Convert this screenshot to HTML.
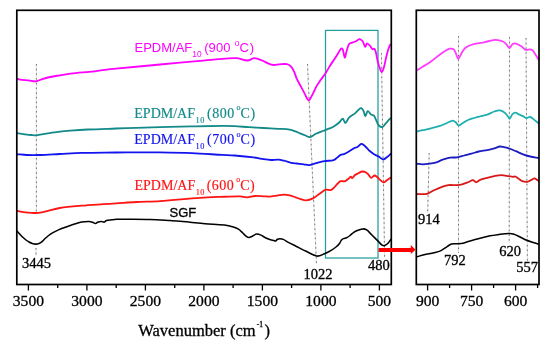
<!DOCTYPE html>
<html><head><meta charset="utf-8"><style>
html,body{margin:0;padding:0;background:#fff;}
svg{display:block;will-change:transform;}

</style></head><body>
<svg width="550" height="348" viewBox="0 0 550 348">
<rect width="550" height="348" fill="#fff"/>
<line x1="36.4" y1="64" x2="36.4" y2="212" stroke="#dcdcdc" stroke-width="0.9"/><line x1="36.4" y1="64" x2="36.4" y2="212" stroke="#6a6a6a" stroke-width="0.9" stroke-dasharray="1.6 3.1" fill="none"/>
<line x1="36.0" y1="248" x2="36.0" y2="256" stroke="#dcdcdc" stroke-width="0.9"/><line x1="36.0" y1="248" x2="36.0" y2="256" stroke="#6a6a6a" stroke-width="0.9" stroke-dasharray="1.6 3.1" fill="none"/>
<line x1="307.5" y1="64" x2="316.5" y2="264" stroke="#dcdcdc" stroke-width="0.9"/><line x1="307.5" y1="64" x2="316.5" y2="264" stroke="#6a6a6a" stroke-width="0.9" stroke-dasharray="1.6 3.1" fill="none"/>
<line x1="381.4" y1="53" x2="384.6" y2="257" stroke="#dcdcdc" stroke-width="0.9"/><line x1="381.4" y1="53" x2="384.6" y2="257" stroke="#6a6a6a" stroke-width="0.9" stroke-dasharray="1.6 3.1" fill="none"/>
<line x1="429.2" y1="153" x2="427.7" y2="213" stroke="#dcdcdc" stroke-width="0.9"/><line x1="429.2" y1="153" x2="427.7" y2="213" stroke="#6a6a6a" stroke-width="0.9" stroke-dasharray="1.6 3.1" fill="none"/>
<line x1="458.5" y1="36" x2="458.5" y2="253" stroke="#dcdcdc" stroke-width="0.9"/><line x1="458.5" y1="36" x2="458.5" y2="253" stroke="#6a6a6a" stroke-width="0.9" stroke-dasharray="1.6 3.1" fill="none"/>
<line x1="509.5" y1="37" x2="509.2" y2="243" stroke="#dcdcdc" stroke-width="0.9"/><line x1="509.5" y1="37" x2="509.2" y2="243" stroke="#6a6a6a" stroke-width="0.9" stroke-dasharray="1.6 3.1" fill="none"/>
<line x1="526.0" y1="38" x2="527.4" y2="262" stroke="#dcdcdc" stroke-width="0.9"/><line x1="526.0" y1="38" x2="527.4" y2="262" stroke="#6a6a6a" stroke-width="0.9" stroke-dasharray="1.6 3.1" fill="none"/>
<rect x="325.5" y="30.4" width="52.5" height="227.6" fill="none" stroke="#249d9d" stroke-width="1.25"/>
<path d="M16.50 78.50 C17.67 78.87 18.83 79.42 20.00 79.60 C22.87 80.05 25.73 80.09 28.60 80.40 C31.03 80.66 33.47 81.53 35.90 81.30 C38.07 81.10 40.23 79.75 42.40 79.10 C45.00 78.32 47.60 77.56 50.20 77.00 C53.47 76.29 56.73 75.85 60.00 75.30 C63.50 74.71 67.00 74.01 70.50 73.60 C78.40 72.68 86.30 72.20 94.20 71.30 C99.47 70.70 104.73 69.73 110.00 69.10 C112.00 68.86 114.00 68.88 116.00 68.70 C130.67 67.35 145.33 65.86 160.00 64.50 C173.33 63.26 186.67 62.14 200.00 60.90 C206.00 60.34 212.00 59.55 218.00 59.10 C224.13 58.65 230.27 57.91 236.40 58.20 C240.13 58.38 243.87 60.50 247.60 60.50 C249.90 60.50 252.20 58.20 254.50 58.20 C257.07 58.20 259.63 59.53 262.20 60.50 C264.13 61.23 266.07 62.55 268.00 63.30 C269.93 64.05 271.87 64.81 273.80 65.00 C275.53 65.17 277.27 64.51 279.00 64.40 C281.63 64.24 284.27 63.69 286.90 64.20 C288.37 64.49 289.83 65.27 291.30 66.80 C292.27 67.81 293.23 69.68 294.20 71.80 C295.00 73.55 295.80 76.62 296.60 78.40 C297.83 81.15 299.07 83.09 300.30 85.40 C301.77 88.15 303.23 90.75 304.70 93.60 C305.53 95.22 306.37 97.40 307.20 98.80 C307.73 99.70 308.27 100.64 308.80 100.50 C309.43 100.34 310.07 98.98 310.70 97.90 C311.57 96.42 312.43 94.53 313.30 92.80 C314.43 90.53 315.57 87.86 316.70 85.90 C318.13 83.42 319.57 81.55 321.00 79.50 C322.53 77.31 324.07 75.53 325.60 73.20 C327.07 70.97 328.53 68.14 330.00 65.80 C331.43 63.51 332.87 61.52 334.30 59.30 C335.73 57.08 337.17 54.72 338.60 52.50 C339.47 51.16 340.33 49.14 341.20 48.60 C341.77 48.24 342.33 48.38 342.90 49.80 C343.53 51.38 344.17 57.39 344.80 57.60 C345.40 57.79 346.00 52.90 346.60 51.00 C347.40 48.47 348.20 45.46 349.00 44.30 C350.13 42.66 351.27 43.09 352.40 42.60 C353.57 42.09 354.73 41.86 355.90 41.30 C357.10 40.73 358.30 39.17 359.50 39.20 C360.60 39.23 361.70 40.03 362.80 41.50 C363.60 42.57 364.40 46.44 365.20 46.80 C365.80 47.07 366.40 43.40 367.00 43.40 C368.27 43.40 369.53 45.39 370.80 46.80 C371.27 47.32 371.73 48.95 372.20 49.20 C372.90 49.58 373.60 48.16 374.30 48.70 C374.80 49.09 375.30 50.14 375.80 52.00 C376.40 54.24 377.00 58.63 377.60 61.00 C378.43 64.29 379.27 66.76 380.10 69.00 C380.63 70.43 381.17 72.17 381.70 72.00 C382.40 71.77 383.10 70.20 383.80 67.80 C384.83 64.26 385.87 58.03 386.90 54.20 C387.90 50.50 388.90 47.62 389.90 45.20 C390.33 44.15 390.77 44.27 391.20 43.80" fill="none" stroke="#ff00ff" stroke-width="1.8" stroke-linejoin="round" stroke-linecap="butt"/>
<path d="M16.50 133.20 C19.33 133.57 22.17 133.96 25.00 134.30 C27.10 134.56 29.20 134.82 31.30 135.00 C33.10 135.15 34.90 135.45 36.70 135.30 C39.27 135.08 41.83 134.35 44.40 133.90 C46.93 133.45 49.47 132.96 52.00 132.60 C54.57 132.23 57.13 131.98 59.70 131.70 C63.30 131.31 66.90 130.88 70.50 130.60 C76.33 130.15 82.17 129.77 88.00 129.50 C97.33 129.07 106.67 128.83 116.00 128.50 C122.67 128.26 129.33 128.00 136.00 127.80 C144.00 127.56 152.00 127.40 160.00 127.20 C170.60 126.93 181.20 126.62 191.80 126.40 C202.10 126.19 212.40 125.95 222.70 125.90 C226.63 125.88 230.57 126.01 234.50 126.20 C239.33 126.44 244.17 126.90 249.00 127.20 C253.87 127.50 258.73 127.73 263.60 128.00 C268.47 128.27 273.33 128.50 278.20 128.80 C282.07 129.04 285.93 129.02 289.80 129.60 C291.73 129.89 293.67 130.70 295.60 131.40 C297.07 131.93 298.53 132.69 300.00 133.30 C301.83 134.06 303.67 134.79 305.50 135.50 C306.93 136.06 308.37 137.33 309.80 137.10 C311.83 136.77 313.87 134.75 315.90 133.80 C318.20 132.72 320.50 131.90 322.80 131.00 C325.10 130.10 327.40 129.33 329.70 128.40 C331.03 127.86 332.37 127.43 333.70 126.60 C335.63 125.40 337.57 123.98 339.50 122.30 C340.63 121.31 341.77 118.46 342.90 118.60 C343.67 118.69 344.43 123.15 345.20 123.00 C346.53 122.75 347.87 118.71 349.20 117.40 C351.13 115.51 353.07 114.96 355.00 113.40 C356.13 112.49 357.27 110.94 358.40 110.00 C359.37 109.20 360.33 108.00 361.30 108.20 C362.07 108.36 362.83 109.55 363.60 111.10 C364.17 112.25 364.73 116.30 365.30 116.30 C366.07 116.30 366.83 111.32 367.60 111.10 C368.77 110.76 369.93 113.76 371.10 114.60 C372.07 115.29 373.03 114.73 374.00 115.70 C374.57 116.27 375.13 117.98 375.70 119.20 C376.47 120.85 377.23 123.07 378.00 124.30 C378.77 125.53 379.53 126.15 380.30 126.60 C381.07 127.05 381.83 127.46 382.60 127.00 C383.73 126.32 384.87 124.48 386.00 123.20 C387.17 121.88 388.33 120.37 389.50 119.20 C390.07 118.63 390.63 118.40 391.20 118.00" fill="none" stroke="#138a8a" stroke-width="1.8" stroke-linejoin="round" stroke-linecap="butt"/>
<path d="M16.50 154.10 C19.97 154.40 23.43 154.87 26.90 155.00 C31.27 155.17 35.63 155.13 40.00 155.00 C46.57 154.80 53.13 154.33 59.70 154.00 C66.97 153.63 74.23 153.09 81.50 152.90 C93.00 152.59 104.50 152.63 116.00 152.50 C122.67 152.43 129.33 152.32 136.00 152.30 C144.00 152.28 152.00 152.27 160.00 152.40 C170.60 152.57 181.20 152.78 191.80 153.20 C202.10 153.61 212.40 154.35 222.70 154.90 C226.63 155.11 230.57 155.18 234.50 155.50 C240.83 156.01 247.17 156.59 253.50 157.40 C256.87 157.83 260.23 158.70 263.60 159.20 C266.03 159.56 268.47 159.93 270.90 160.00 C273.33 160.07 275.77 159.47 278.20 159.60 C280.13 159.70 282.07 160.23 284.00 160.70 C286.43 161.29 288.87 162.28 291.30 162.80 C293.20 163.21 295.10 163.27 297.00 163.50 C299.27 163.77 301.53 164.00 303.80 164.30 C305.53 164.53 307.27 165.24 309.00 165.10 C311.10 164.94 313.20 163.94 315.30 163.40 C318.37 162.61 321.43 161.65 324.50 161.10 C327.57 160.55 330.63 160.95 333.70 160.10 C334.87 159.78 336.03 158.48 337.20 157.60 C338.33 156.75 339.47 155.48 340.60 154.90 C341.93 154.22 343.27 154.36 344.60 153.80 C346.13 153.16 347.67 152.20 349.20 151.30 C350.73 150.40 352.27 149.22 353.80 148.40 C355.13 147.69 356.47 147.52 357.80 146.70 C358.97 145.98 360.13 144.06 361.30 143.80 C362.20 143.60 363.10 144.64 364.00 145.30 C364.83 145.91 365.67 146.78 366.50 147.60 C367.60 148.68 368.70 150.02 369.80 151.00 C371.10 152.16 372.40 153.12 373.70 154.00 C374.57 154.59 375.43 154.96 376.30 155.40 C377.13 155.82 377.97 156.10 378.80 156.60 C380.27 157.47 381.73 159.43 383.20 159.50 C384.53 159.56 385.87 158.02 387.20 157.00 C388.53 155.98 389.87 154.60 391.20 153.40" fill="none" stroke="#1414ee" stroke-width="1.8" stroke-linejoin="round" stroke-linecap="butt"/>
<path d="M16.50 210.60 C18.33 211.00 20.17 211.47 22.00 211.80 C24.00 212.17 26.00 212.52 28.00 212.70 C30.53 212.92 33.07 213.07 35.60 213.00 C37.73 212.94 39.87 212.68 42.00 212.30 C44.00 211.95 46.00 211.29 48.00 210.80 C51.90 209.85 55.80 208.59 59.70 208.00 C66.97 206.89 74.23 206.33 81.50 205.70 C88.77 205.07 96.03 204.68 103.30 204.20 C107.53 203.92 111.77 203.68 116.00 203.40 C122.67 202.95 129.33 202.35 136.00 202.00 C144.00 201.58 152.00 201.62 160.00 201.10 C173.33 200.22 186.67 198.73 200.00 197.80 C206.67 197.33 213.33 197.13 220.00 196.90 C226.67 196.67 233.33 196.30 240.00 196.40 C242.33 196.43 244.67 197.36 247.00 197.30 C249.67 197.23 252.33 196.16 255.00 196.00 C257.87 195.83 260.73 196.18 263.60 196.30 C265.57 196.38 267.53 196.70 269.50 196.60 C272.00 196.47 274.50 195.94 277.00 195.60 C279.33 195.28 281.67 194.64 284.00 194.60 C285.93 194.57 287.87 194.95 289.80 195.40 C291.73 195.85 293.67 196.64 295.60 197.30 C297.07 197.80 298.53 198.47 300.00 198.90 C302.03 199.50 304.07 200.48 306.10 200.40 C308.40 200.31 310.70 199.55 313.00 198.40 C315.30 197.25 317.60 195.08 319.90 193.50 C321.83 192.18 323.77 190.30 325.70 189.70 C327.43 189.16 329.17 190.56 330.90 190.10 C332.03 189.80 333.17 188.50 334.30 187.40 C335.27 186.46 336.23 184.95 337.20 184.00 C338.33 182.88 339.47 181.61 340.60 181.20 C341.93 180.71 343.27 181.69 344.60 181.30 C345.77 180.96 346.93 179.85 348.10 179.00 C349.03 178.32 349.97 176.89 350.90 176.70 C351.30 176.62 351.70 178.37 352.10 178.20 C353.07 177.80 354.03 175.77 355.00 175.00 C356.13 174.10 357.27 173.74 358.40 173.20 C359.73 172.57 361.07 171.58 362.40 171.50 C363.77 171.42 365.13 172.02 366.50 172.70 C367.07 172.98 367.63 173.77 368.20 174.40 C369.17 175.47 370.13 177.63 371.10 177.80 C372.23 178.00 373.37 175.59 374.50 175.50 C375.47 175.42 376.43 176.53 377.40 177.30 C378.37 178.07 379.33 179.29 380.30 180.10 C381.37 180.99 382.43 182.40 383.50 182.40 C384.73 182.40 385.97 180.92 387.20 180.10 C388.53 179.22 389.87 178.23 391.20 177.30" fill="none" stroke="#ff1414" stroke-width="1.8" stroke-linejoin="round" stroke-linecap="butt"/>
<path d="M16.50 230.40 C17.50 231.53 18.50 232.70 19.50 233.80 C20.50 234.90 21.50 236.05 22.50 237.00 C23.67 238.11 24.83 239.10 26.00 240.00 C27.00 240.77 28.00 241.44 29.00 242.00 C30.10 242.61 31.20 243.15 32.30 243.50 C33.40 243.85 34.50 244.10 35.60 244.10 C36.73 244.10 37.87 243.94 39.00 243.50 C40.00 243.11 41.00 242.38 42.00 241.60 C42.80 240.98 43.60 240.05 44.40 239.30 C45.60 238.18 46.80 236.93 48.00 236.00 C49.67 234.70 51.33 233.57 53.00 232.60 C55.00 231.44 57.00 230.45 59.00 229.60 C61.40 228.58 63.80 227.86 66.20 227.00 C68.47 226.19 70.73 225.33 73.00 224.60 C75.83 223.69 78.67 222.65 81.50 222.10 C84.03 221.61 86.57 221.45 89.10 221.50 C90.30 221.52 91.50 221.93 92.70 222.30 C93.63 222.59 94.57 223.57 95.50 223.50 C96.40 223.43 97.30 222.17 98.20 221.90 C99.40 221.54 100.60 221.56 101.80 221.60 C102.57 221.63 103.33 222.27 104.10 222.10 C104.87 221.93 105.63 220.83 106.40 220.60 C108.20 220.06 110.00 220.03 111.80 219.80 C113.33 219.60 114.87 219.34 116.40 219.30 C120.93 219.18 125.47 219.26 130.00 219.30 C136.67 219.36 143.33 219.38 150.00 219.60 C156.67 219.82 163.33 220.24 170.00 220.60 C173.33 220.78 176.67 220.93 180.00 221.20 C183.33 221.47 186.67 221.87 190.00 222.20 C195.00 222.70 200.00 223.29 205.00 223.70 C211.50 224.23 218.00 224.24 224.50 225.00 C227.47 225.34 230.43 226.11 233.40 227.00 C235.10 227.51 236.80 228.14 238.50 229.20 C239.80 230.01 241.10 231.42 242.40 232.60 C243.73 233.82 245.07 235.39 246.40 236.40 C247.23 237.03 248.07 237.55 248.90 237.50 C250.17 237.42 251.43 236.57 252.70 236.00 C253.97 235.43 255.23 234.24 256.50 234.10 C258.00 233.94 259.50 234.49 261.00 235.10 C262.47 235.69 263.93 236.99 265.40 237.70 C267.10 238.52 268.80 239.15 270.50 239.70 C271.67 240.08 272.83 240.20 274.00 240.50 C274.53 240.64 275.07 241.18 275.60 241.00 C276.23 240.78 276.87 239.62 277.50 239.30 C278.33 238.88 279.17 238.79 280.00 238.80 C281.10 238.82 282.20 238.92 283.30 239.40 C284.97 240.12 286.63 241.51 288.30 242.40 C290.87 243.77 293.43 244.92 296.00 246.20 C299.40 247.89 302.80 249.70 306.20 251.30 C309.80 253.00 313.40 255.61 317.00 256.10 C319.50 256.44 322.00 254.78 324.50 253.80 C326.43 253.04 328.37 252.04 330.30 250.90 C332.20 249.78 334.10 248.53 336.00 247.00 C337.17 246.06 338.33 244.98 339.50 243.50 C340.17 242.65 340.83 240.82 341.50 240.00 C342.17 239.18 342.83 238.89 343.50 238.60 C344.50 238.16 345.50 238.28 346.50 237.80 C347.67 237.24 348.83 236.38 350.00 235.50 C351.13 234.65 352.27 233.34 353.40 232.60 C354.93 231.60 356.47 230.89 358.00 230.30 C359.67 229.66 361.33 228.92 363.00 228.90 C364.37 228.88 365.73 229.34 367.10 230.20 C368.23 230.91 369.37 232.47 370.50 233.60 C371.93 235.03 373.37 236.47 374.80 237.90 C375.97 239.07 377.13 240.23 378.30 241.40 C379.43 242.53 380.57 243.99 381.70 244.80 C382.57 245.42 383.43 245.88 384.30 245.70 C385.47 245.45 386.63 244.59 387.80 243.50 C388.63 242.72 389.47 241.20 390.30 240.10 C390.60 239.70 390.90 239.37 391.20 239.00" fill="none" stroke="#000" stroke-width="1.55" stroke-linejoin="round" stroke-linecap="butt"/>
<path d="M416.50 70.60 C418.53 69.33 420.57 68.05 422.60 66.80 C424.70 65.51 426.80 64.40 428.90 63.00 C430.60 61.87 432.30 60.51 434.00 59.20 C435.77 57.84 437.53 56.29 439.30 55.00 C441.60 53.32 443.90 51.71 446.20 50.30 C447.33 49.61 448.47 48.87 449.60 48.70 C450.93 48.50 452.27 48.40 453.60 49.20 C454.20 49.56 454.80 50.92 455.40 52.20 C456.00 53.48 456.60 55.62 457.20 56.90 C457.63 57.82 458.07 59.04 458.50 58.80 C459.17 58.44 459.83 56.29 460.50 55.10 C461.33 53.62 462.17 51.99 463.00 50.80 C463.93 49.46 464.87 48.19 465.80 47.50 C467.50 46.25 469.20 45.59 470.90 45.00 C473.20 44.19 475.50 43.76 477.80 43.30 C479.87 42.89 481.93 42.80 484.00 42.40 C485.07 42.20 486.13 41.74 487.20 41.50 C490.07 40.87 492.93 39.80 495.80 39.80 C498.20 39.80 500.60 40.47 503.00 41.50 C504.17 42.00 505.33 43.22 506.50 44.40 C507.47 45.38 508.43 48.10 509.40 48.00 C510.60 47.87 511.80 44.29 513.00 43.70 C514.43 42.99 515.87 43.63 517.30 44.10 C518.73 44.57 520.17 45.52 521.60 46.50 C522.93 47.42 524.27 49.35 525.60 49.80 C527.13 50.32 528.67 49.20 530.20 49.40 C531.17 49.53 532.13 49.73 533.10 50.80 C534.30 52.13 535.50 54.69 536.70 56.60 C537.47 57.82 538.23 59.00 539.00 60.20" fill="none" stroke="#ff3cff" stroke-width="1.8" stroke-linejoin="round" stroke-linecap="butt"/>
<path d="M416.50 131.60 C418.53 131.13 420.57 130.66 422.60 130.20 C425.47 129.56 428.33 129.01 431.20 128.30 C434.10 127.58 437.00 126.87 439.90 125.90 C442.27 125.11 444.63 123.97 447.00 123.00 C448.93 122.21 450.87 120.76 452.80 120.60 C453.77 120.52 454.73 121.47 455.70 122.30 C456.63 123.10 457.57 125.41 458.50 125.50 C459.97 125.64 461.43 123.84 462.90 123.00 C464.80 121.91 466.70 120.53 468.60 119.70 C470.50 118.87 472.40 118.53 474.30 118.00 C476.20 117.47 478.10 116.99 480.00 116.50 C482.40 115.89 484.80 115.54 487.20 114.70 C489.57 113.87 491.93 112.29 494.30 111.50 C496.23 110.86 498.17 110.13 500.10 110.40 C501.77 110.63 503.43 111.71 505.10 113.00 C506.07 113.75 507.03 115.33 508.00 116.50 C508.60 117.23 509.20 118.99 509.80 118.70 C510.63 118.29 511.47 115.33 512.30 114.40 C513.27 113.33 514.23 112.66 515.20 112.70 C516.63 112.76 518.07 114.08 519.50 114.70 C520.67 115.21 521.83 115.53 523.00 116.10 C524.07 116.63 525.13 117.87 526.20 118.00 C527.53 118.17 528.87 116.75 530.20 117.00 C531.40 117.22 532.60 118.49 533.80 119.40 C535.53 120.72 537.27 122.27 539.00 123.70" fill="none" stroke="#1eb0b0" stroke-width="1.8" stroke-linejoin="round" stroke-linecap="butt"/>
<path d="M416.50 163.70 C418.53 163.90 420.57 164.30 422.60 164.30 C425.00 164.30 427.40 164.01 429.80 163.70 C431.73 163.45 433.67 163.20 435.60 162.60 C437.97 161.87 440.33 160.51 442.70 159.70 C445.10 158.88 447.50 158.10 449.90 157.70 C452.30 157.30 454.70 157.67 457.10 157.30 C459.50 156.93 461.90 156.10 464.30 155.50 C466.70 154.90 469.10 154.37 471.50 153.70 C473.90 153.03 476.30 152.05 478.70 151.50 C481.53 150.85 484.37 150.66 487.20 150.10 C489.57 149.63 491.93 149.06 494.30 148.40 C496.23 147.86 498.17 146.50 500.10 146.50 C502.97 146.50 505.83 147.55 508.70 148.40 C511.10 149.11 513.50 150.19 515.90 151.20 C518.27 152.19 520.63 153.52 523.00 154.40 C525.40 155.29 527.80 155.96 530.20 156.50 C533.13 157.16 536.07 157.50 539.00 158.00" fill="none" stroke="#1c1cc0" stroke-width="1.8" stroke-linejoin="round" stroke-linecap="butt"/>
<path d="M416.50 194.00 C418.07 194.07 419.63 194.23 421.20 194.20 C423.10 194.16 425.00 194.39 426.90 193.80 C429.30 193.06 431.70 191.29 434.10 190.20 C436.97 188.89 439.83 187.62 442.70 186.60 C444.63 185.92 446.57 185.30 448.50 185.10 C451.37 184.80 454.23 185.30 457.10 185.10 C459.03 184.97 460.97 184.62 462.90 184.10 C464.80 183.59 466.70 182.76 468.60 182.00 C470.03 181.43 471.47 180.04 472.90 180.10 C473.97 180.14 475.03 182.34 476.10 182.30 C477.43 182.24 478.77 180.33 480.10 179.80 C482.47 178.86 484.83 178.52 487.20 177.90 C489.57 177.28 491.93 176.56 494.30 176.10 C496.70 175.63 499.10 175.08 501.50 175.10 C503.90 175.12 506.30 175.82 508.70 176.20 C510.13 176.42 511.57 176.83 513.00 176.90 C513.73 176.93 514.47 176.27 515.20 176.50 C516.37 176.87 517.53 177.93 518.70 178.70 C519.90 179.49 521.10 180.77 522.30 181.20 C523.97 181.80 525.63 182.01 527.30 181.80 C528.50 181.65 529.70 180.67 530.90 180.10 C532.10 179.53 533.30 178.40 534.50 178.40 C535.47 178.40 536.43 179.50 537.40 180.10 C537.93 180.43 538.47 180.83 539.00 181.20" fill="none" stroke="#d81818" stroke-width="1.8" stroke-linejoin="round" stroke-linecap="butt"/>
<path d="M416.50 256.90 C419.03 256.17 421.57 255.30 424.10 254.70 C427.43 253.90 430.77 253.51 434.10 252.70 C436.40 252.14 438.70 251.68 441.00 250.60 C443.03 249.65 445.07 247.87 447.10 246.60 C448.60 245.67 450.10 244.38 451.60 244.00 C453.77 243.45 455.93 243.95 458.10 243.80 C459.77 243.68 461.43 243.59 463.10 243.20 C465.13 242.72 467.17 241.83 469.20 241.20 C471.13 240.60 473.07 240.04 475.00 239.50 C476.67 239.04 478.33 238.61 480.00 238.20 C483.37 237.38 486.73 236.45 490.10 235.80 C493.43 235.15 496.77 234.77 500.10 234.30 C501.73 234.07 503.37 233.84 505.00 233.70 C506.50 233.57 508.00 233.40 509.50 233.50 C511.00 233.60 512.50 233.85 514.00 234.30 C515.50 234.75 517.00 235.49 518.50 236.20 C520.43 237.12 522.37 238.36 524.30 239.20 C526.97 240.36 529.63 241.29 532.30 242.20 C534.53 242.96 536.77 243.53 539.00 244.20" fill="none" stroke="#000" stroke-width="1.55" stroke-linejoin="round" stroke-linecap="butt"/>
<rect x="16.8" y="10.3" width="374.5" height="274.2" fill="none" stroke="#000" stroke-width="1.7"/>
<rect x="416.3" y="10.3" width="122.7" height="274.2" fill="none" stroke="#000" stroke-width="1.7"/>
<path d="M378.6 248.1 L410.8 248.1 L410.8 245.1 L415.5 249.8 L410.8 254 L410.8 251.9 L378.6 252.1 Z" fill="#ff0000"/>
<line x1="28.4" y1="284.5" x2="28.4" y2="290.5" stroke="#000" stroke-width="1.3"/>
<line x1="86.9" y1="284.5" x2="86.9" y2="290.5" stroke="#000" stroke-width="1.3"/>
<line x1="145.4" y1="284.5" x2="145.4" y2="290.5" stroke="#000" stroke-width="1.3"/>
<line x1="203.9" y1="284.5" x2="203.9" y2="290.5" stroke="#000" stroke-width="1.3"/>
<line x1="262.4" y1="284.5" x2="262.4" y2="290.5" stroke="#000" stroke-width="1.3"/>
<line x1="320.9" y1="284.5" x2="320.9" y2="290.5" stroke="#000" stroke-width="1.3"/>
<line x1="379.4" y1="284.5" x2="379.4" y2="290.5" stroke="#000" stroke-width="1.3"/>
<line x1="57.7" y1="284.5" x2="57.7" y2="288" stroke="#000" stroke-width="1.3"/>
<line x1="116.2" y1="284.5" x2="116.2" y2="288" stroke="#000" stroke-width="1.3"/>
<line x1="174.7" y1="284.5" x2="174.7" y2="288" stroke="#000" stroke-width="1.3"/>
<line x1="233.1" y1="284.5" x2="233.1" y2="288" stroke="#000" stroke-width="1.3"/>
<line x1="291.6" y1="284.5" x2="291.6" y2="288" stroke="#000" stroke-width="1.3"/>
<line x1="350.1" y1="284.5" x2="350.1" y2="288" stroke="#000" stroke-width="1.3"/>
<line x1="427.6" y1="284.5" x2="427.6" y2="290.5" stroke="#000" stroke-width="1.3"/>
<line x1="449.6" y1="284.5" x2="449.6" y2="288" stroke="#000" stroke-width="1.3"/>
<line x1="471.6" y1="284.5" x2="471.6" y2="290.5" stroke="#000" stroke-width="1.3"/>
<line x1="493.6" y1="284.5" x2="493.6" y2="288" stroke="#000" stroke-width="1.3"/>
<line x1="515.6" y1="284.5" x2="515.6" y2="290.5" stroke="#000" stroke-width="1.3"/>
<line x1="537.6" y1="284.5" x2="537.6" y2="288" stroke="#000" stroke-width="1.3"/>
<text x="28.4" y="305.7" style="font-family:'Liberation Serif',serif" font-size="15.6" text-anchor="middle" stroke="#000" stroke-width="0.3">3500</text>
<text x="86.9" y="305.7" style="font-family:'Liberation Serif',serif" font-size="15.6" text-anchor="middle" stroke="#000" stroke-width="0.3">3000</text>
<text x="145.4" y="305.7" style="font-family:'Liberation Serif',serif" font-size="15.6" text-anchor="middle" stroke="#000" stroke-width="0.3">2500</text>
<text x="203.9" y="305.7" style="font-family:'Liberation Serif',serif" font-size="15.6" text-anchor="middle" stroke="#000" stroke-width="0.3">2000</text>
<text x="262.4" y="305.7" style="font-family:'Liberation Serif',serif" font-size="15.6" text-anchor="middle" stroke="#000" stroke-width="0.3">1500</text>
<text x="320.9" y="305.7" style="font-family:'Liberation Serif',serif" font-size="15.6" text-anchor="middle" stroke="#000" stroke-width="0.3">1000</text>
<text x="379.4" y="305.7" style="font-family:'Liberation Serif',serif" font-size="15.6" text-anchor="middle" stroke="#000" stroke-width="0.3">500</text>
<text x="427.6" y="305.7" style="font-family:'Liberation Serif',serif" font-size="15.6" text-anchor="middle" stroke="#000" stroke-width="0.3">900</text>
<text x="471.6" y="305.7" style="font-family:'Liberation Serif',serif" font-size="15.6" text-anchor="middle" stroke="#000" stroke-width="0.3">750</text>
<text x="515.6" y="305.7" style="font-family:'Liberation Serif',serif" font-size="15.6" text-anchor="middle" stroke="#000" stroke-width="0.3">600</text>
<text x="138.3" y="335.7" style="font-family:'Liberation Serif',serif" font-size="16.5" stroke="#000" stroke-width="0.3">Wavenumber (cm<tspan dx="1" dy="-8.4" font-size="7.5">-1</tspan><tspan dx="1.5" dy="8.4">)</tspan></text>
<text x="134.5" y="52.4" style="font-family:'Liberation Sans',sans-serif" font-size="13" fill="#ff00ff" stroke="#ff00ff" stroke-width="0">EPDM/AF<tspan dx="0" dy="4.8" font-size="8.3" letter-spacing="0">10</tspan><tspan dx="2.6" dy="-4.8" font-size="13" letter-spacing="0.15">(900</tspan><tspan dx="4.0" dy="-6.3" font-size="8.5" letter-spacing="0">o</tspan><tspan dy="6.3" font-size="13" letter-spacing="1.0">C)</tspan></text>
<text x="134.3" y="117.6" style="font-family:'Liberation Serif',serif" font-size="14" fill="#138a8a" stroke="#138a8a" stroke-width="0.15">EPDM/AF<tspan dx="0.6" dy="5" font-size="8.3" letter-spacing="0.4">10</tspan><tspan dx="2.4" dy="-5" font-size="14" letter-spacing="0.5">(800</tspan><tspan dx="1.8" dy="-7.6" font-size="8" letter-spacing="0">o</tspan><tspan dy="7.6" font-size="14" letter-spacing="0.5">C)</tspan></text>
<text x="134.3" y="144.4" style="font-family:'Liberation Serif',serif" font-size="14" fill="#1414ee" stroke="#1414ee" stroke-width="0.15">EPDM/AF<tspan dx="0.6" dy="5" font-size="8.3" letter-spacing="0.4">10</tspan><tspan dx="2.4" dy="-5" font-size="14" letter-spacing="0.5">(700</tspan><tspan dx="1.8" dy="-7.6" font-size="8" letter-spacing="0">o</tspan><tspan dy="7.6" font-size="14" letter-spacing="0.5">C)</tspan></text>
<text x="134.5" y="189.7" style="font-family:'Liberation Serif',serif" font-size="14" fill="#ff1414" stroke="#ff1414" stroke-width="0.15">EPDM/AF<tspan dx="0.6" dy="5" font-size="8.3" letter-spacing="0.4">10</tspan><tspan dx="1.8" dy="-5" font-size="14" letter-spacing="0.5">(600</tspan><tspan dx="1.8" dy="-7.6" font-size="8" letter-spacing="0">o</tspan><tspan dy="7.6" font-size="14" letter-spacing="0.5">C)</tspan></text>
<text x="169.5" y="217.2" style="font-family:'Liberation Sans',sans-serif" font-size="13" stroke="#000" stroke-width="0.3">SGF</text>
<text x="22" y="268.4" style="font-family:'Liberation Serif',serif" font-size="14.5" stroke="#000" stroke-width="0.3">3445</text>
<text x="303.4" y="278.5" style="font-family:'Liberation Serif',serif" font-size="14.5" stroke="#000" stroke-width="0.3">1022</text>
<text x="368" y="269.7" style="font-family:'Liberation Serif',serif" font-size="14.5" stroke="#000" stroke-width="0.3">480</text>
<text x="418" y="223.7" style="font-family:'Liberation Serif',serif" font-size="14.5" stroke="#000" stroke-width="0.3">914</text>
<text x="444" y="264.6" style="font-family:'Liberation Serif',serif" font-size="14.5" stroke="#000" stroke-width="0.3">792</text>
<text x="499.3" y="255.9" style="font-family:'Liberation Serif',serif" font-size="14.5" stroke="#000" stroke-width="0.3">620</text>
<text x="516.3" y="272.4" style="font-family:'Liberation Serif',serif" font-size="14.5" stroke="#000" stroke-width="0.3">557</text>
</svg>
</body></html>
